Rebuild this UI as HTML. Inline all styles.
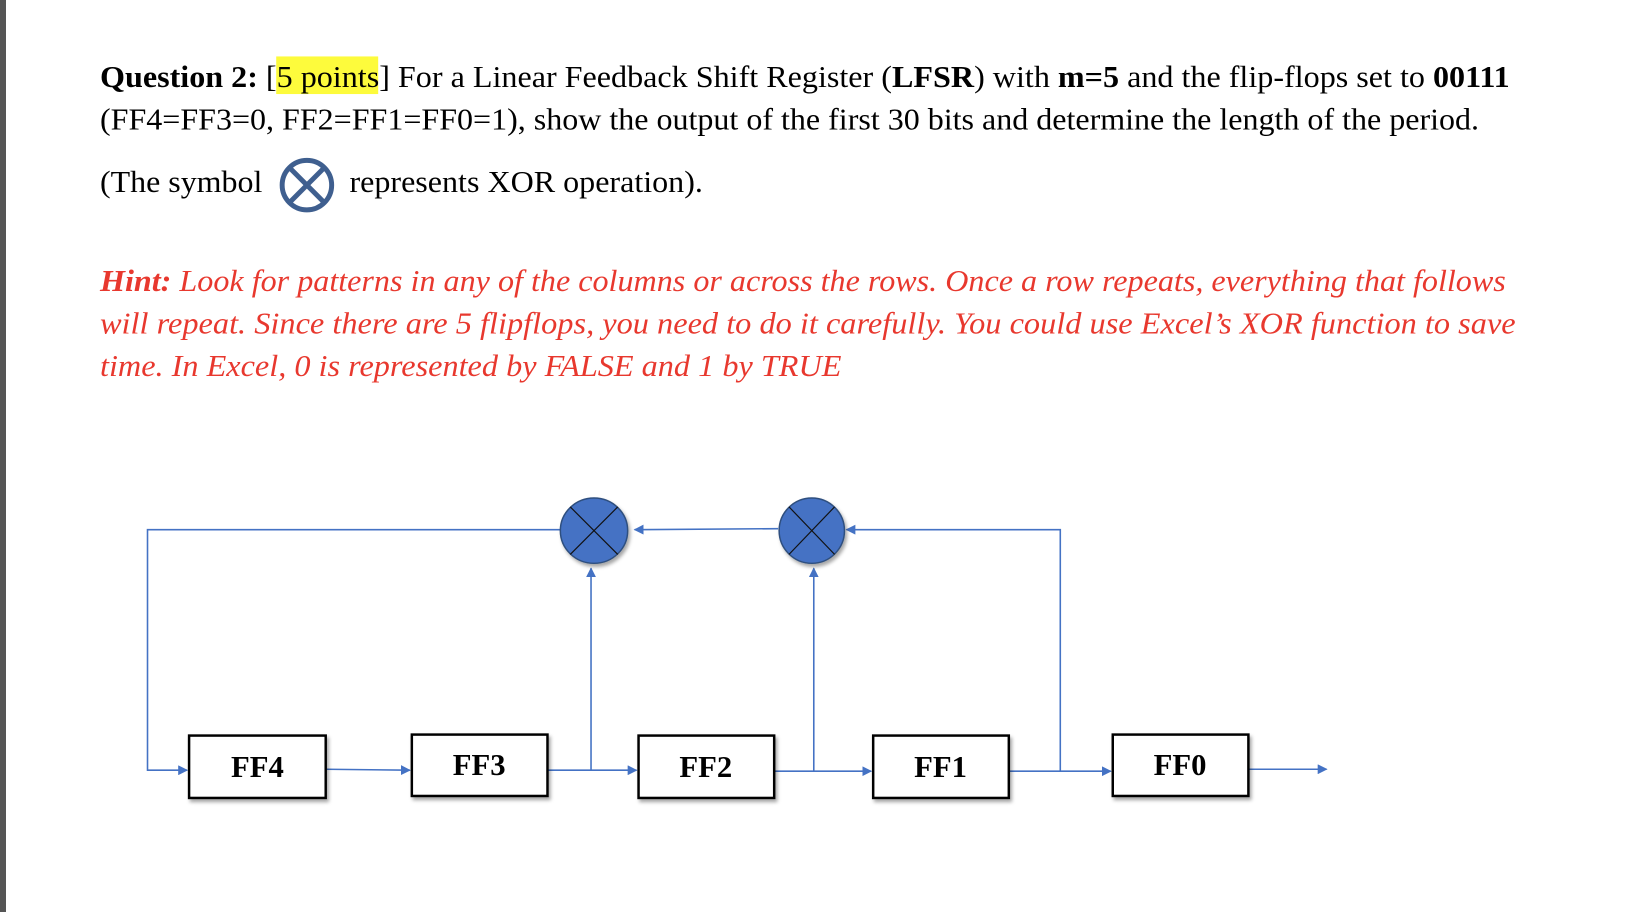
<!DOCTYPE html>
<html><head><meta charset="utf-8"><style>
html,body{margin:0;padding:0;background:#fff;}
svg{display:block;}
text{font-family:"Liberation Serif",serif;}
</style></head><body>
<svg width="1636" height="912" viewBox="0 0 1636 912" xmlns="http://www.w3.org/2000/svg">
<defs>
<marker id="ah" markerWidth="10" markerHeight="10" refX="9" refY="5" orient="auto" markerUnits="userSpaceOnUse">
<path d="M0,0 L10,5 L0,10 z" fill="#4472c4"/>
</marker>
<filter id="sh" x="-10%" y="-10%" width="130%" height="140%"><feDropShadow dx="2" dy="3" stdDeviation="2" flood-color="#000" flood-opacity="0.35"/></filter>
</defs>
<rect x="0" y="0" width="6" height="912" fill="#555"/>
<g transform="scale(0.99)">
<g transform="translate(0,-2)">
<rect x="279" y="59" width="103" height="38" fill="#fdfb3c"/>
<text x="101" y="90" font-size="31" fill="#000" textLength="1424" lengthAdjust="spacingAndGlyphs"><tspan font-weight="bold">Question 2:</tspan> [5 points] For a Linear Feedback Shift Register (<tspan font-weight="bold">LFSR</tspan>) with <tspan font-weight="bold">m=5</tspan> and the flip-flops set to <tspan font-weight="bold">00111</tspan></text>
<text x="101" y="133" font-size="31" fill="#000" textLength="1393" lengthAdjust="spacingAndGlyphs">(FF4=FF3=0, FF2=FF1=FF0=1), show the output of the first 30 bits and determine the length of the period.</text>
<text x="101" y="196" font-size="31" fill="#000" textLength="164" lengthAdjust="spacingAndGlyphs">(The symbol</text>
<circle cx="310" cy="189" r="25" fill="none" stroke="#3f5f8f" stroke-width="5"/>
<line x1="293" y1="172" x2="327" y2="206" stroke="#3f5f8f" stroke-width="5"/>
<line x1="327" y1="172" x2="293" y2="206" stroke="#3f5f8f" stroke-width="5"/>
<text x="353" y="196" font-size="31" fill="#000" textLength="357" lengthAdjust="spacingAndGlyphs">represents XOR operation).</text>
<g font-size="31" fill="#e8382e" font-style="italic">
<text x="101" y="296" textLength="1420" lengthAdjust="spacingAndGlyphs"><tspan font-weight="bold">Hint:</tspan> Look for patterns in any of the columns or across the rows. Once a row repeats, everything that follows</text>
<text x="101" y="339" textLength="1430" lengthAdjust="spacingAndGlyphs">will repeat. Since there are 5 flipflops, you need to do it carefully. You could use Excel’s XOR function to save</text>
<text x="101" y="382" textLength="749" lengthAdjust="spacingAndGlyphs">time. In Excel, 0 is represented by FALSE and 1 by TRUE</text>
</g>
</g>
<g stroke="#4472c4" stroke-width="1.6" fill="none">
<polyline points="566,535 149,535 149,778 189,778" marker-end="url(#ah)"/>
<line x1="329" y1="777" x2="414" y2="778" marker-end="url(#ah)"/>
<line x1="553" y1="778" x2="643" y2="778" marker-end="url(#ah)"/>
<line x1="782" y1="779" x2="880" y2="779" marker-end="url(#ah)"/>
<line x1="1019" y1="779" x2="1122" y2="779" marker-end="url(#ah)"/>
<line x1="1261" y1="777" x2="1340" y2="777" marker-end="url(#ah)"/>
<line x1="597" y1="778" x2="597" y2="574" marker-end="url(#ah)"/>
<line x1="822" y1="779" x2="822" y2="574" marker-end="url(#ah)"/>
<polyline points="1071,779 1071,535 855,535" marker-end="url(#ah)"/>
<line x1="786" y1="534" x2="641" y2="535" marker-end="url(#ah)"/>
</g>
<g filter="url(#sh)">
<ellipse cx="600" cy="536" rx="34" ry="33" fill="#4472c4" stroke="#2f4f7f" stroke-width="1.5"/>
<ellipse cx="820" cy="536" rx="33" ry="33" fill="#4472c4" stroke="#2f4f7f" stroke-width="1.5"/>
</g>
<g stroke="#111" stroke-width="1.2">
<line x1="576" y1="512" x2="624" y2="560"/><line x1="624" y1="512" x2="576" y2="560"/>
<line x1="797" y1="512" x2="843" y2="560"/><line x1="843" y1="512" x2="797" y2="560"/>
</g>
<g filter="url(#sh)" fill="#fff" stroke="#000" stroke-width="2.5">
<rect x="191" y="743" width="138" height="63"/>
<rect x="416" y="742" width="137" height="62"/>
<rect x="645" y="743" width="137" height="63"/>
<rect x="882" y="743" width="137" height="63"/>
<rect x="1124" y="742" width="137" height="62"/>
</g>
<g font-size="31" font-weight="bold" fill="#000" text-anchor="middle">
<text x="260" y="785">FF4</text>
<text x="484" y="783">FF3</text>
<text x="713" y="785">FF2</text>
<text x="950" y="785">FF1</text>
<text x="1192" y="783">FF0</text>
</g>
</g>
</svg>
</body></html>
